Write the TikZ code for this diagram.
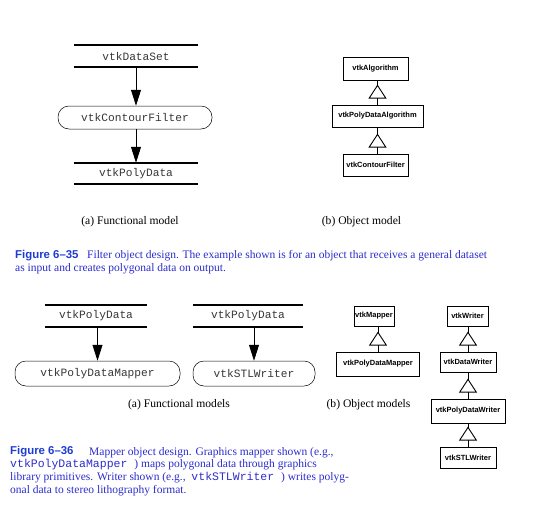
\documentclass[tikz,border=0pt]{standalone}
\usepackage{fontspec}
\setmainfont{Liberation Serif}
\setsansfont{Liberation Sans}
\setmonofont{Liberation Mono}
\usetikzlibrary{arrows.meta,decorations.markings}
\definecolor{capblue}{RGB}{45,45,205}
\definecolor{figblue}{RGB}{30,60,210}
\definecolor{monogray}{RGB}{55,55,55}
\newcommand\capmonofont{\fontsize{11.5}{13}\ttfamily}
\begin{document}
\begin{tikzpicture}[x=1pt,y=-1pt,
  dataobj/.style={minimum width=#1, minimum height=22, inner sep=0pt,
    font=\fontsize{11.2}{13}\ttfamily, text=monogray},
  dataline/.style={line width=1.8pt},
  procbox/.style={draw, rounded corners=11pt, minimum width=#1, minimum height=24,
    inner sep=0pt, line width=0.5pt, font=\fontsize{11.2}{13}\ttfamily, text=monogray},
  flow/.style={-{Triangle[length=16pt,width=10pt]}, line width=0.8pt},
  objbox/.style={draw, line width=0.9pt, inner sep=0pt,
    font=\fontsize{7.5}{9}\sffamily\bfseries},
  inherit/.style={line width=0.9pt, postaction={decorate},
    decoration={markings, mark=at position 20pt with
      {\arrow{Triangle[fill=white,length=14pt,width=18pt]}}}},
  subcap/.style={anchor=base, inner sep=0pt, font=\fontsize{11.6}{13}\selectfont},
  capline/.style={anchor=base west, inner sep=0pt, text=capblue,
    font=\fontsize{11.5}{13}\selectfont},
  figlabel/.style={anchor=base west, inner sep=0pt, text=figblue,
    font=\fontsize{11.4}{13}\sffamily\bfseries},
]
\fill[white] (0,0) rectangle (538,509);
\useasboundingbox (0,0) rectangle (538,509);

% ---------- Figure 6-35 (a) functional model ----------
\node[dataobj=124, minimum height=22] (ds) at (136,56) {vtkDataSet};
\draw[dataline] (ds.north west) -- (ds.north east) (ds.south west) -- (ds.south east);
\node[procbox=154, minimum height=23] (cfp) at (135,117.5) {vtkContourFilter};
\node[dataobj=124, minimum height=21] (pd) at (136,173.5) {vtkPolyData};
\draw[dataline] (pd.north west) -- (pd.north east) (pd.south west) -- (pd.south east);
\draw[flow] (ds.south) -- (ds.south |- cfp.north);
\draw[flow] (cfp.south -| pd.north) -- (pd.north);

% ---------- Figure 6-35 (b) object model ----------
\node[objbox, minimum width=65, minimum height=23] (alg) at (375.5,68.5) {vtkAlgorithm};
\node[objbox, minimum width=91, minimum height=22] (pda) at (377.5,116) {vtkPolyDataAlgorithm};
\node[objbox, minimum width=65, minimum height=22] (cf) at (375.5,165) {vtkContourFilter};
\draw[inherit] (pda.north) -- (alg.south -| pda.north);
\draw[inherit] (cf.north -| pda.south) -- (pda.south);

\node[subcap] (capa1) at (130,224) {(a) Functional model};
\node[subcap] (capb1) at (361.5,224) {(b) Object model};

\node[figlabel] (fig35) at (15,258) {Figure 6–35};
\node[capline] (c35a) at (87,258) {Filter object design. The example shown is for an object that receives a general dataset};
\node[capline] (c35b) at (15,271) {as input and creates polygonal data on output.};

% ---------- Figure 6-36 (a) functional models ----------
\node[dataobj=102] (pd1) at (96,316) {vtkPolyData};
\draw[dataline] (pd1.north west) -- (pd1.north east) (pd1.south west) -- (pd1.south east);
\node[dataobj=110] (pd2) at (248,316) {vtkPolyData};
\draw[dataline] (pd2.north west) -- (pd2.north east) (pd2.south west) -- (pd2.south east);
\node[procbox=165, minimum height=25] (pdmp) at (97.5,373.5) {vtkPolyDataMapper};
\node[procbox=122, minimum height=25] (stlp) at (254,373.5) {vtkSTLWriter};
\draw[flow] (pd1.south -| pdmp.north) -- (pdmp.north);
\draw[flow] (pd2.south -| stlp.north) -- (stlp.north);

\node[subcap] (capa2) at (179,407.5) {(a) Functional models};

% ---------- Figure 6-36 (b) object models ----------
\node[objbox, minimum width=40, minimum height=20] (map) at (374,316) {vtkMapper};
\node[objbox, minimum width=83, minimum height=24] (pdm) at (378,364) {vtkPolyDataMapper};
\draw[inherit] (pdm.north) -- (map.south -| pdm.north);

\node[objbox, minimum width=41, minimum height=20] (wr) at (467.5,316) {vtkWriter};
\node[objbox, minimum width=56, minimum height=20] (dw) at (468,362) {vtkDataWriter};
\node[objbox, minimum width=74, minimum height=24] (pdw) at (468,411) {vtkPolyDataWriter};
\node[objbox, minimum width=56, minimum height=21] (stl) at (468,457.5) {vtkSTLWriter};
\draw[inherit] (dw.north) -- (wr.south -| dw.north);
\draw[inherit] (pdw.north) -- (dw.south);
\draw[inherit] (stl.north) -- (pdw.south);

\node[subcap] (capb2) at (368.5,407.5) {(b) Object models};

\node[figlabel] (fig36) at (10,454.5) {Figure 6–36};
\node[capline] (c36a) at (89,455) {Mapper object design. Graphics mapper shown (e.g.,};
\node[capline] (c36b) at (10,467.5) {{\capmonofont vtkPolyDataMapper }) maps polygonal data through graphics};
\node[capline] (c36c) at (10,480.5) {library primitives. Writer shown (e.g., \ {\capmonofont vtkSTLWriter }) writes polyg-};
\node[capline] (c36d) at (10,493.5) {onal data to stereo lithography format.};
\end{tikzpicture}
\end{document}
